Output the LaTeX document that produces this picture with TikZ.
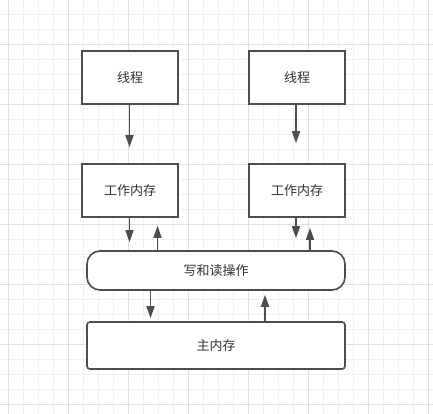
\documentclass[tikz,border=0pt]{standalone}
\usepackage{fontspec}
\newfontfamily\cjk{Noto Sans CJK SC}
\usetikzlibrary{arrows.meta}
\definecolor{minorgrid}{HTML}{F0F0F0}
\definecolor{majorgrid}{HTML}{E0E0E0}
\definecolor{edge}{HTML}{4D4D4D}
\definecolor{txt}{HTML}{333333}
\begin{document}
\begin{tikzpicture}[x=1pt,y=-1pt,
  box/.style={draw=edge,line width=1.6pt,fill=white,font=\cjk\fontsize{13}{15}\selectfont,text=txt,inner sep=0pt},
  conn/.style={draw=edge,line width=1.6pt,-{Triangle[length=12pt,width=8pt]}}]
\useasboundingbox (0,0) rectangle (433,414);
\fill[white] (0,0) rectangle (433,414);
% grid
\foreach \x in {8,23,...,433} \draw[minorgrid,line width=0.8pt] (\x,0) -- (\x,414);
\foreach \y in {14,29,...,414} \draw[minorgrid,line width=0.8pt] (0,\y) -- (433,\y);
\foreach \x in {8,68,...,433} \draw[majorgrid,line width=0.8pt] (\x,0) -- (\x,414);
\foreach \y in {44,104,...,414} \draw[majorgrid,line width=0.8pt] (0,\y) -- (433,\y);
% nodes
\node[box,minimum width=96pt,minimum height=53pt] (t1) at (130,77.5) {线程};
\node[box,minimum width=96pt,minimum height=53pt] (t2) at (297,77.5) {线程};
\node[box,minimum width=96pt,minimum height=53pt] (w1) at (130,190.5) {工作内存};
\node[box,minimum width=96pt,minimum height=53pt] (w2) at (297,190.5) {工作内存};
\node[box,rounded corners=13pt,minimum width=258pt,minimum height=39pt] (rw) at (216,270.5) {写和读操作};
\node[box,rounded corners=3pt,minimum width=258pt,minimum height=47pt] (m) at (216,345.5) {主内存};
% connectors
\draw[conn,shorten >=16pt] (t1.south -| 129.5,0) -- (w1.north -| 129.5,0);
\draw[conn,shorten >=20pt] (t2.south -| 296,0) -- (w2.north -| 296,0);
\draw[conn,shorten >=8pt] (w1.south -| 129.5,0) -- (rw.north -| 129.5,0);
\draw[conn,shorten >=8pt] (rw.north -| 157.5,0) -- (w1.south -| 157.5,0);
\draw[conn,shorten >=12pt] (w2.south -| 296,0) -- (rw.north -| 296,0);
\draw[conn,shorten >=10pt] (rw.north -| 310,0) -- (w2.south -| 310,0);
\draw[conn,shorten >=3pt] (rw.south -| 150.5,0) -- (m.north -| 150.5,0);
\draw[conn,shorten >=4pt] (m.north -| 265,0) -- (rw.south -| 265,0);
\end{tikzpicture}
\end{document}
